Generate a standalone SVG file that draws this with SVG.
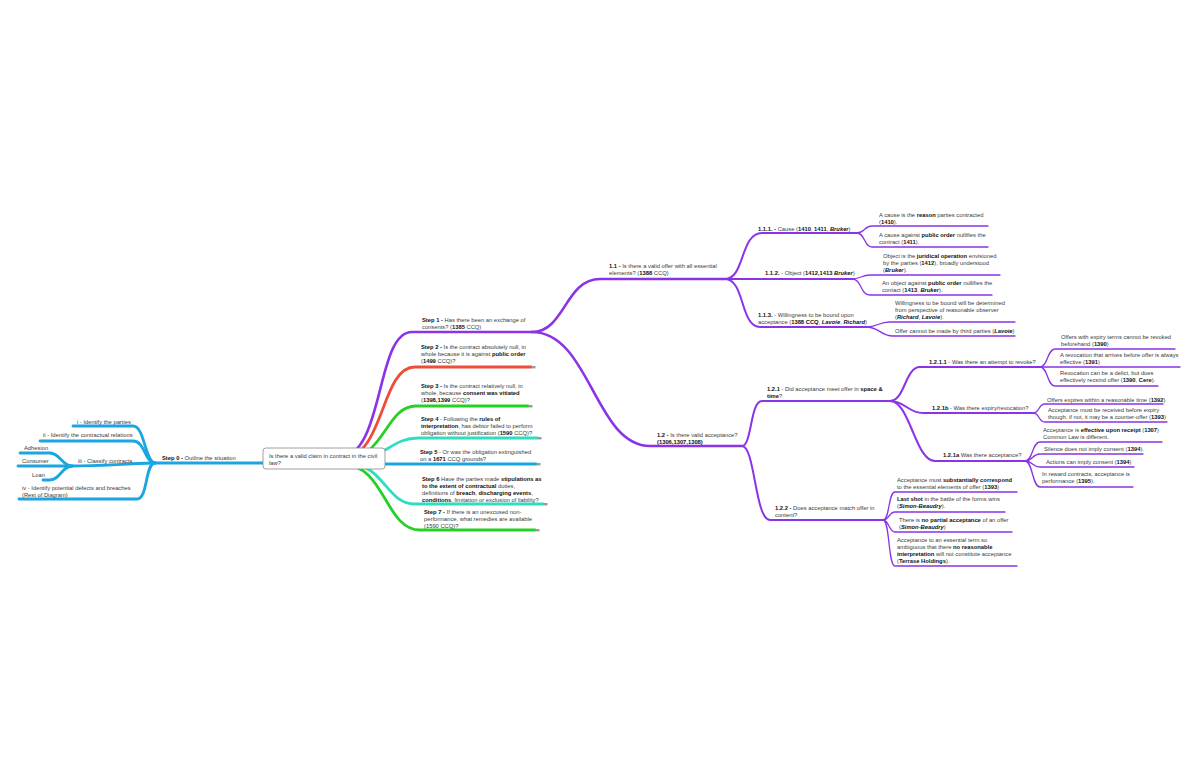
<svg xmlns="http://www.w3.org/2000/svg" width="1200" height="776" viewBox="0 0 1200 776">
<style>
text{font-family:"Liberation Sans",Arial,sans-serif;font-size:5.8px;fill:#3a3a3a}
.b{font-weight:bold;fill:#111}
.i{font-style:italic}
.c{fill:none;stroke-linecap:round}
.bl{stroke:#1BA6E1;stroke-width:2.8}
.pu{stroke:#8B33E6}
.w3{stroke-width:2.6}
.w2{stroke-width:2}
.w1{stroke-width:1.3}
.red{stroke:#EF4C3A;stroke-width:2.8}
.gr{stroke:#26D126;stroke-width:2.8}
.te{stroke:#2FDDC0;stroke-width:2.8}
.mk{fill:#9a9a9a}
</style>
<rect width="1200" height="776" fill="#fff"/>
<g id="connectors">
<path class="c bl" d="M263,463 H155"/>
<path class="c bl" d="M155,463 C145,463 145,426 133,426 H73"/>
<path class="c bl" d="M155,463 C145,463 145,441 133,441 H40"/>
<path class="c bl" d="M155,463 C120,464 100,466 72,466 H18"/>
<path class="c bl" d="M72,466 C62,466 60,453 50,453 H20"/>
<path class="c bl" d="M72,466 C62,466 60,480 50,480 H43"/>
<path class="c bl" d="M155,463 C145,463 148,499 137,499 H19"/>
<path class="c pu w3" d="M338,458 C385,458 375,332 412,332 H532"/>
<path class="c red" d="M340,459 C385,459 380,367 415,367 H531"/>
<path class="c gr" d="M342,460 C385,460 385,406 416,406 H528"/>
<path class="c te" d="M345,461 C385,461 390,438 418,438 H537"/>
<path class="c bl" d="M345,464 H536"/>
<path class="c te" d="M345,463 C385,463 385,504 415,504 H543"/>
<path class="c gr" d="M342,464 C385,464 385,530 420,530 H535"/>
<rect class="mk" x="531.5" y="366" width="4" height="2.4"/>
<rect class="mk" x="528.5" y="405" width="4" height="2.4"/>
<rect class="mk" x="537.5" y="437" width="4" height="2.4"/>
<rect class="mk" x="536.5" y="463" width="4" height="2.4"/>
<rect class="mk" x="543.5" y="503" width="4" height="2.4"/>
<rect class="mk" x="535.5" y="529" width="4" height="2.4"/>
<path class="c pu w3" d="M532,332 C565,332 565,279 600,279 H725"/>
<path class="c pu w2" d="M725,279 C745,279 740,233 762,233 H857"/>
<path class="c pu w2" d="M725,279 H852"/>
<path class="c pu w2" d="M725,279 C745,279 740,327 760,327 H866"/>
<path class="c pu w1" d="M857,233 C865,233 864,226 872,226 H988"/>
<path class="c pu w1" d="M857,233 C865,233 864,247 872,247 H988"/>
<path class="c pu w1" d="M852,279 C860,279 862,275 870,275 H1000"/>
<path class="c pu w1" d="M852,279 C862,279 860,295 870,295 H992"/>
<path class="c pu w1" d="M866,327 C878,327 878,322 890,322 H1015"/>
<path class="c pu w1" d="M866,327 C880,327 880,336 893,336 H1015"/>
<path class="c pu w3" d="M532,332 C590,332 595,446 650,446 H742"/>
<path class="c pu w2" d="M742,446 C752,446 750,401 762,401 H890"/>
<path class="c pu w2" d="M742,446 C755,446 755,520 770,520 H883"/>
<path class="c pu w2" d="M890,401 C905,401 905,367 920,367 H1040"/>
<path class="c pu w2" d="M890,401 C905,401 908,413 923,413 H1033"/>
<path class="c pu w2" d="M890,401 C910,401 915,461 935,461 H1025"/>
<path class="c pu w1" d="M1040,367 C1048,367 1047,349 1055,349 H1175"/>
<path class="c pu w1" d="M1040,367 H1180"/>
<path class="c pu w1" d="M1040,367 C1048,367 1047,386 1055,386 H1158"/>
<path class="c pu w1" d="M1033,413 C1040,413 1038,404 1045,404 H1163"/>
<path class="c pu w1" d="M1033,413 C1040,413 1038,422 1045,422 H1167"/>
<path class="c pu w1" d="M1025,461 C1033,461 1032,442 1040,442 H1162"/>
<path class="c pu w1" d="M1025,461 C1033,461 1032,454 1040,454 H1143"/>
<path class="c pu w1" d="M1025,461 C1033,461 1032,467 1040,467 H1134"/>
<path class="c pu w1" d="M1025,461 C1033,461 1032,487 1040,487 H1133"/>
<path class="c pu w1" d="M883,520 C890,520 888,492 895,492 H1017"/>
<path class="c pu w1" d="M883,520 C889,520 889,512 895,512 H1005"/>
<path class="c pu w1" d="M883,520 C889,520 889,532 895,532 H1012"/>
<path class="c pu w1" d="M883,520 C890,520 888,566 895,566 H1017"/>
</g>
<g id="root">
<rect x="263" y="448" width="122" height="21" rx="3" fill="#fff" stroke="#888" stroke-width="0.8"/>
<text x="269" y="458">Is there a valid claim in contract in the civil</text>
<text x="269" y="465">law?</text>
</g>
<g id="labels" transform="translate(0,-1)">
<g id="step0"><text x="162" y="461"><tspan class="b">Step 0 -</tspan> Outline the situation</text></g>
<g id="s0-i"><text x="77" y="425">i - Identify the parties</text></g>
<g id="s0-ii"><text x="43" y="438">ii - Identify the contractual relations</text></g>
<g id="s0-iii"><text x="78" y="464">iii - Classify contracts</text></g>
<g id="adhesion"><text x="24" y="451">Adhesion</text></g>
<g id="consumer"><text x="22" y="464">Consumer</text></g>
<g id="loan"><text x="32" y="478">Loan</text></g>
<g id="s0-iv"><text x="22" y="491">iv - Identify potential defects and breaches</text><text x="22" y="498">(Rest of Diagram)</text></g>
<g id="step1"><text x="422" y="323"><tspan class="b">Step 1 -</tspan> Has there been an exchange of</text><text x="422" y="330">consents? (<tspan class="b">1385</tspan> CCQ)</text></g>
<g id="step2"><text x="421" y="350"><tspan class="b">Step 2 -</tspan> Is the contract absolutely null, in</text><text x="421" y="357">whole because it is against <tspan class="b">public order</tspan></text><text x="421" y="364">(<tspan class="b">1499</tspan> CCQ)?</text></g>
<g id="step3"><text x="421" y="389"><tspan class="b">Step 3 -</tspan> Is the contract relatively null, in</text><text x="421" y="396">whole, because <tspan class="b">consent was vitiated</tspan></text><text x="421" y="403">(<tspan class="b">1398,1399</tspan> CCQ)?</text></g>
<g id="step4"><text x="421" y="422"><tspan class="b">Step 4</tspan> - Following the <tspan class="b">rules of</tspan></text><text x="421" y="429"><tspan class="b">interpretation</tspan>, has debtor failed to perform</text><text x="421" y="436">obligation without justification (<tspan class="b">1590</tspan> CCQ)?</text></g>
<g id="step5"><text x="420" y="455"><tspan class="b">Step 5</tspan> - Or was the obligation extinguished</text><text x="420" y="462">on a <tspan class="b">1671</tspan> CCQ grounds?</text></g>
<g id="step6"><text x="422" y="482"><tspan class="b">Step 6</tspan> Have the parties made <tspan class="b">stipulations as</tspan></text><text x="422" y="489"><tspan class="b">to the extent of contractual</tspan> duties,</text><text x="422" y="496">definitions of <tspan class="b">breach</tspan>, <tspan class="b">discharging events</tspan>,</text><text x="422" y="503"><tspan class="b">conditions</tspan>, limitation or exclusion of liability?</text></g>
<g id="step7"><text x="424" y="515"><tspan class="b">Step 7 -</tspan> If there is an unexcused non-</text><text x="424" y="522">performance, what remedies are available</text><text x="424" y="529">(1590 CCQ)?</text></g>
<g id="n1-1"><text x="609" y="269"><tspan class="b">1.1 -</tspan> Is there  a valid offer with all essential</text><text x="609" y="276">elements? (<tspan class="b">1388</tspan> CCQ)</text></g>
<g id="n1-1-1"><text x="758" y="232"><tspan class="b">1.1.1. -</tspan>  Cause (<tspan class="b">1410</tspan>, <tspan class="b">1411</tspan>, <tspan class="b i">Bruker</tspan>)</text></g>
<g id="n1-1-2"><text x="765" y="276"><tspan class="b">1.1.2.</tspan> - Object (<tspan class="b">1412,1413 <tspan class="i">Bruker</tspan></tspan>)</text></g>
<g id="n1-1-3"><text x="758" y="318"><tspan class="b">1.1.3.</tspan> - Willingness to be bound upon</text><text x="758" y="325">acceptance (<tspan class="b">1388 CCQ</tspan>, <tspan class="b i">Lavoie</tspan>, <tspan class="b i">Richard</tspan>)</text></g>
<g id="l-cause1"><text x="879" y="218">A cause is the <tspan class="b">reason</tspan> parties contracted</text><text x="879" y="225">(<tspan class="b">1410</tspan>).</text></g>
<g id="l-cause2"><text x="879" y="238">A cause against <tspan class="b">public order</tspan> nullifies the</text><text x="879" y="245">contract (<tspan class="b">1411</tspan>).</text></g>
<g id="l-obj1"><text x="883" y="259">Object is the <tspan class="b">juridical operation</tspan> envisioned</text><text x="883" y="266">by the parties (<tspan class="b">1412</tspan>), broadly understood</text><text x="883" y="273">(<tspan class="b i">Bruker</tspan>).</text></g>
<g id="l-obj2"><text x="882" y="286">An object against <tspan class="b">public order</tspan> nullifies the</text><text x="882" y="293">contact (<tspan class="b">1413</tspan>, <tspan class="b i">Bruker</tspan>).</text></g>
<g id="l-will1"><text x="895" y="306">Willingness to be bound will be determined</text><text x="895" y="313">from perspective of reasonable observer</text><text x="895" y="320">(<tspan class="b i">Richard</tspan>, <tspan class="b i">Lavoie</tspan>).</text></g>
<g id="l-will2"><text x="895" y="334">Offer cannot be made by third parties (<tspan class="b i">Lavoie</tspan>)</text></g>
<g id="n1-2"><text x="657" y="438"><tspan class="b">1.2 -</tspan> Is there valid acceptance?</text><text x="657" y="445" class="b">(1306,1307,1308)</text></g>
<g id="n1-2-1"><text x="767" y="392"><tspan class="b">1.2.1</tspan> - Did acceptance meet offer in <tspan class="b">space &amp;</tspan></text><text x="767" y="399"><tspan class="b">time</tspan>?</text></g>
<g id="n1-2-1-1"><text x="929" y="365"><tspan class="b">1.2.1.1</tspan> - Was there an attempt to revoke?</text></g>
<g id="n1-2-1b"><text x="932" y="411"><tspan class="b">1.2.1b</tspan> - Was there expiry/revocation?</text></g>
<g id="n1-2-1a"><text x="943" y="458"><tspan class="b">1.2.1a</tspan> Was there acceptance?</text></g>
<g id="l-rev1"><text x="1061" y="340">Offers with expiry terms cannot be revoked</text><text x="1061" y="347">beforehand (<tspan class="b">1390</tspan>)</text></g>
<g id="l-rev2"><text x="1060" y="358">A revocation that arrives before offer is always</text><text x="1060" y="365">effective (<tspan class="b">1391</tspan>)</text></g>
<g id="l-rev3"><text x="1060" y="376">Revocation can be a delict, but does</text><text x="1060" y="383">effectively recsind offer (<tspan class="b">1390</tspan>, <tspan class="b">Cere</tspan>).</text></g>
<g id="l-exp1"><text x="1047" y="403">Offers expires within a reasonable time (<tspan class="b">1392</tspan>)</text></g>
<g id="l-exp2"><text x="1048" y="413">Acceptance must be received before expiry</text><text x="1048" y="420">though, if not, it may be a counter-offer (<tspan class="b">1393</tspan>)</text></g>
<g id="l-acc1"><text x="1043" y="433">Acceptance is <tspan class="b">effective upon receipt</tspan> (<tspan class="b">1307</tspan>)</text><text x="1043" y="440">Common Law is different.</text></g>
<g id="l-acc2"><text x="1044" y="452">Silence does not imply consent (<tspan class="b">1394</tspan>).</text></g>
<g id="l-acc3"><text x="1046" y="465">Actions can imply consent (<tspan class="b">1394</tspan>)</text></g>
<g id="l-acc4"><text x="1042" y="477">In reward contracts, acceptance is</text><text x="1042" y="484">performance (<tspan class="b">1395</tspan>).</text></g>
<g id="n1-2-2"><text x="775" y="511"><tspan class="b">1.2.2 -</tspan> Does acceptance match offer in</text><text x="775" y="518">content?</text></g>
<g id="l-match1"><text x="897" y="483">Acceptance must <tspan class="b">substantially correspond</tspan></text><text x="897" y="490">to the essential elements of offer (<tspan class="b">1393</tspan>)</text></g>
<g id="l-match2"><text x="897" y="502"><tspan class="b">Last shot</tspan> in the battle of the forms wins</text><text x="897" y="509">(<tspan class="b i">Simon-Beaudry</tspan>).</text></g>
<g id="l-match3"><text x="899" y="523">There is <tspan class="b">no partial acceptance</tspan> of an offer</text><text x="899" y="530">(<tspan class="b i">Simon-Beaudry</tspan>)</text></g>
<g id="l-match4"><text x="897" y="543">Acceptance to an essential term so</text><text x="897" y="550">ambiguous that there <tspan class="b">no reasonable</tspan></text><text x="897" y="557"><tspan class="b">interpretation</tspan> will not constitute acceptance</text><text x="897" y="564">(<tspan class="b">Terrase Holdings</tspan>).</text></g>
</g>
</svg>
